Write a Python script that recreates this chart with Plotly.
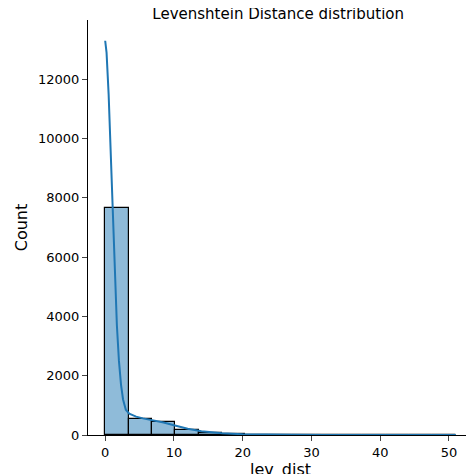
import plotly.graph_objects as go

bin_width = 3.4
bin_starts = [i * bin_width for i in range(15)]
counts = [7650, 540, 450, 180, 70, 30, 12, 8, 5, 4, 3, 2, 2, 1, 1]

kde_x = [0, 0.2, 0.5, 0.8, 1.1, 1.4, 1.7, 2.0, 2.3, 2.6, 3.0, 3.5, 4.5, 5.5, 7, 8.5, 10, 12, 14, 17, 20, 23, 27, 32, 40, 51]
kde_y = [13300, 12900, 11500, 9500, 7300, 5300, 3700, 2500, 1700, 1200, 850, 720, 620, 560, 500, 420, 330, 210, 130, 60, 25, 10, 5, 3, 2, 1]
y_ticks = [0, 2000, 4000, 6000, 8000, 10000, 12000]

fig = go.Figure()
fig.add_trace(go.Bar(
    x=[s + bin_width / 2 for s in bin_starts], y=counts, width=bin_width,
    marker=dict(color="rgba(31,119,180,0.5)", line=dict(color="black", width=1.2)),
))
fig.add_trace(go.Scatter(x=kde_x, y=kde_y, mode="lines", line=dict(color="#1f77b4", width=2)))

fig.update_layout(
    width=474, height=474, showlegend=False, plot_bgcolor="white", paper_bgcolor="white",
    margin=dict(l=80, r=9, t=12, b=44), bargap=0,
    font=dict(family="DejaVu Sans", size=13, color="black"),
    title=dict(text="Levenshtein Distance distribution", x=0.57, y=0.999, yanchor="top", font=dict(size=15)),
)
fig.update_xaxes(range=[-2.5, 53.5], tickvals=[0, 10, 20, 30, 40, 50], showline=True, linecolor="black",
                 ticks="outside", showgrid=False, zeroline=False, title=dict(text="lev_dist", standoff=2))
fig.update_yaxes(range=[0, 14000], tickvals=y_ticks, ticktext=[str(v) for v in y_ticks], showline=True,
                 linecolor="black", ticks="outside", showgrid=False, zeroline=False, title=dict(text="Count", standoff=6))
fig.write_html("out.html")
